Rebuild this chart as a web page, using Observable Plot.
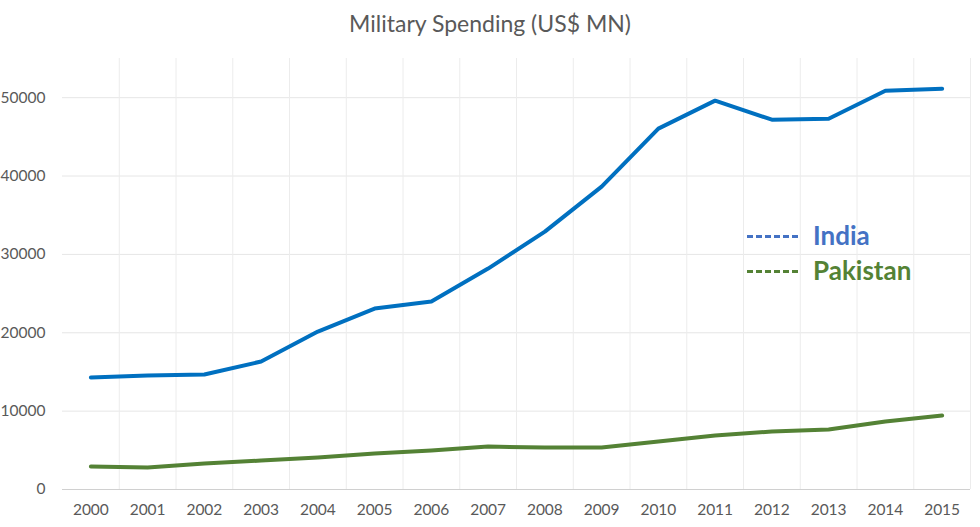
<!DOCTYPE html>
<html>
<head>
<meta charset="utf-8">
<script src="https://cdn.jsdelivr.net/npm/d3@7"></script>
<script src="https://cdn.jsdelivr.net/npm/@observablehq/plot@0.6"></script>
<style>
  html, body { margin: 0; padding: 0; background: #fff; }
  #wrap { position: relative; width: 980px; height: 527px; font-family: Lato, "Open Sans", sans-serif; }
  #title { height: 40px; line-height: 46px; text-align: center; font-size: 23px; color: #595959; }
  .leg { position: absolute; font-weight: bold; font-size: 26px; white-space: nowrap; display: flex; align-items: center; }
  .leg span.d { display: inline-block; width: 51px; height: 3px; margin-right: 15px; margin-top: 2px; }
</style>
</head>
<body>
<div id="wrap">
  <div id="title">Military Spending (US$ MN)</div>
  <div id="chart"></div>
</div>
<script>
const years = [2000,2001,2002,2003,2004,2005,2006,2007,2008,2009,2010,2011,2012,2013,2014,2015];
const india = [14300,14540,14670,16330,20150,23090,23980,28190,32900,38650,46050,49620,47190,47320,50890,51150];
const pakistan = [2930,2800,3320,3700,4080,4590,4970,5480,5360,5360,6120,6890,7400,7650,8670,9440];
const seriesNames = ["India","Pakistan"];
const seriesColors = ["#0070C0","#548235"];
const legendColors = ["#4472C4","#548235"];
const yTicks = [0,10000,20000,30000,40000,50000];

const rows = [];
years.forEach((yr,i)=>{
  rows.push({year:yr, value:india[i], series:"India"});
  rows.push({year:yr, value:pakistan[i], series:"Pakistan"});
});
const bounds = years.map(y=>y-0.5).concat([years[years.length-1]+0.5]);

const plot = Plot.plot({
  width: 980,
  height: 487,
  marginTop: 18,
  marginBottom: 38,
  marginLeft: 62,
  marginRight: 10,
  style: {fontFamily: "Lato, 'Open Sans', sans-serif", fontSize: "15.5px", color: "#595959", background: "#fff"},
  x: {domain: [years[0]-0.5, years[years.length-1]+0.5], ticks: years, tickFormat: d=>String(d), tickSize: 0, tickPadding: 14, label: null},
  y: {domain: [0,55000], ticks: yTicks, tickFormat: d=>String(d), tickSize: 0, tickPadding: 17, label: null},
  color: {domain: seriesNames, range: seriesColors},
  marks: [
    Plot.ruleY(yTicks.filter(d=>d>0), {stroke:"#e6e6e6", strokeWidth:1}),
    Plot.ruleX(bounds.slice(1), {stroke:"#ececec", strokeWidth:1}),
    Plot.ruleY([0], {stroke:"#d0d0d0", strokeWidth:1.2}),
    Plot.line(rows, {x:"year", y:"value", z:"series", stroke:"series", strokeWidth:4, strokeLinecap:"round", strokeLinejoin:"round"})
  ]
});
document.getElementById("chart").appendChild(plot);

const wrap = document.getElementById("wrap");
const legTops = [219, 254];
seriesNames.forEach((n,i)=>{
  const d = document.createElement("div");
  d.className = "leg";
  d.style.left = "747px";
  d.style.top = legTops[i] + "px";
  d.style.color = legendColors[i];
  const c = legendColors[i];
  d.innerHTML = '<span class="d" style="background: repeating-linear-gradient(to right, ' + c + ' 0px, ' + c + ' 6px, transparent 6px, transparent 9px)"></span>' + n;
  wrap.appendChild(d);
});
</script>
</body>
</html>
